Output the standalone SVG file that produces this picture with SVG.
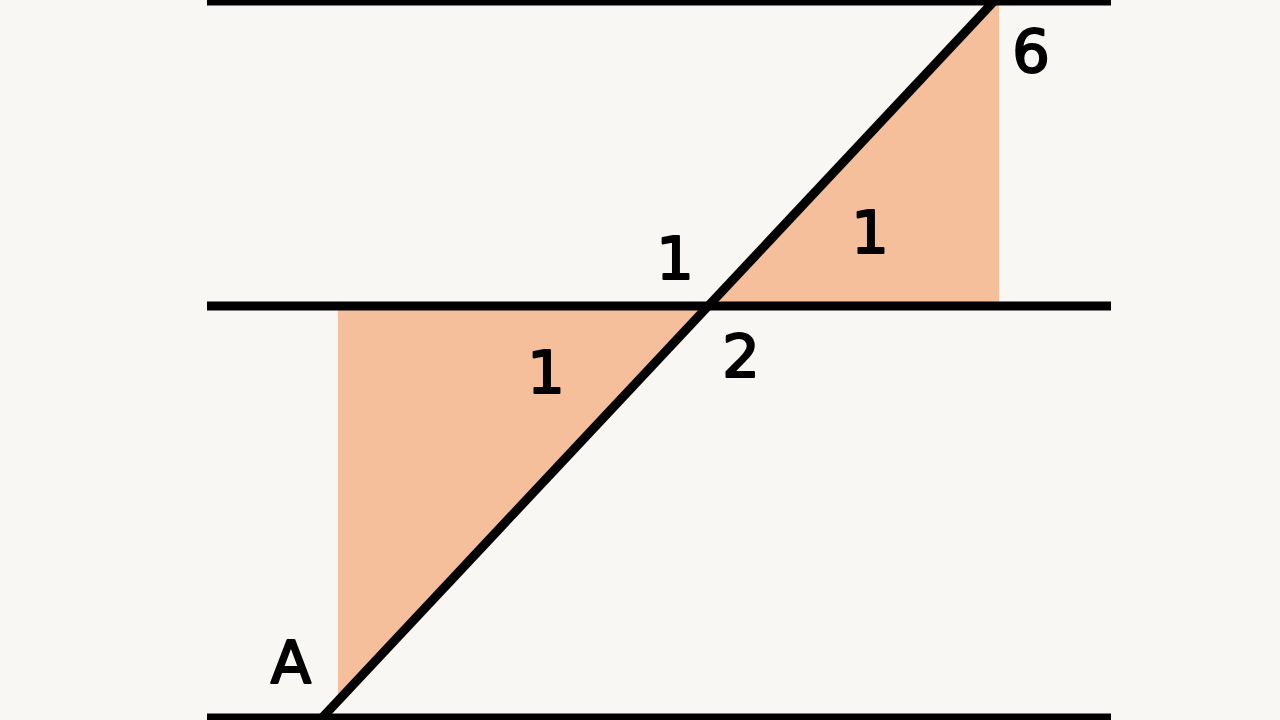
<svg xmlns="http://www.w3.org/2000/svg" width="1280" height="720" viewBox="0 0 1280 720">
<style>
.shade{fill:#f4bf9a;stroke:none}
.ln{stroke:#000;stroke-width:9;fill:none}
.lbl{font-family:"DejaVu Sans",sans-serif;font-size:59px;fill:#000;stroke:#000;stroke-width:2.2;stroke-linejoin:round;text-anchor:middle}
</style>
<rect width="1280" height="720" fill="#f8f7f3"/>
<g id="shaded-regions">
<polygon class="shade" points="338,306 708,306 338,701"/>
<polygon class="shade" points="708,306 999,306 999,-4"/>
</g>
<g id="connectors">
<line class="ln" x1="207" y1="1" x2="1111" y2="1"/>
<line class="ln" x1="207" y1="306" x2="1111" y2="306"/>
<line class="ln" x1="207" y1="718" x2="1111" y2="718"/>
<line class="ln" x1="320" y1="720" x2="998" y2="-3"/>
</g>
<g id="labels">
<text class="lbl" x="1031" y="72">6</text>
<text class="lbl" x="870" y="253">1</text>
<text class="lbl" x="675" y="279">1</text>
<text class="lbl" x="741" y="377">2</text>
<text class="lbl" x="546" y="393">1</text>
<text class="lbl" x="291" y="683">A</text>
</g>
</svg>
